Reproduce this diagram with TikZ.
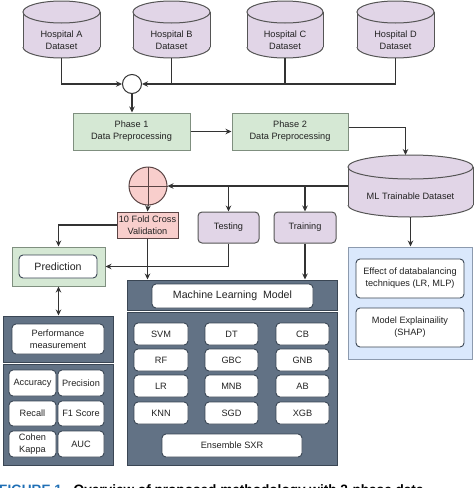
\documentclass[tikz,border=0pt]{standalone}
\usepackage{fontspec}
\setmainfont{Liberation Sans}
\usetikzlibrary{arrows.meta}
\definecolor{cylf}{HTML}{E1D5E7}
\definecolor{cyld}{HTML}{555555}
\definecolor{greenf}{HTML}{D5E8D4}
\definecolor{greend}{HTML}{7F8F7F}
\definecolor{pinkf}{HTML}{F8CECC}
\definecolor{pinkd}{HTML}{5A4444}
\definecolor{slatef}{HTML}{627285}
\definecolor{slated}{HTML}{3A4654}
\definecolor{bluef}{HTML}{DAE8FC}
\definecolor{blued}{HTML}{8C9AAE}
\definecolor{linec}{HTML}{333333}
\definecolor{txtc}{HTML}{222222}
\definecolor{capblue}{HTML}{1F6FB5}
\newcommand\myfs{\fontsize{9.2}{12}\selectfont}
\newcommand\mycyl[7]{%
  \pgfmathsetmacro\cx{(#2+#3)/2}%
  \pgfmathsetmacro\rx{(#3-#2)/2}%
  \pgfmathsetmacro\cw{#3-#2}%
  \pgfmathsetmacro\ch{#5-#4}%
  \pgfmathsetmacro\cy{(#4+#5)/2}%
  \fill[cylf] (#2,#4+#6) rectangle (#3,#5-#6);
  \fill[cylf] (\cx,#5-#6) ellipse [x radius=\rx, y radius=#6];
  \begin{scope}
    \clip (#2-3,#5-#6) rectangle (#3+3,#5+3);
    \draw[cyld, line width=1pt] (\cx,#5-#6) ellipse [x radius=\rx, y radius=#6];
  \end{scope}
  \draw[cyld, line width=1pt] (#2,#4+#6) -- (#2,#5-#6) (#3,#4+#6) -- (#3,#5-#6);
  \filldraw[fill=cylf, draw=cyld, line width=1pt] (\cx,#4+#6) ellipse [x radius=\rx, y radius=#6];
  \node[inner sep=0pt, outer sep=0pt, minimum width=\cw pt, minimum height=\ch pt] (#1) at (\cx,\cy) {};
  \node[txtn] (#1t) at (\cx,#7) {};
}
\begin{document}
\begin{tikzpicture}[x=1pt,y=-1pt,
  txtn/.style={inner sep=0pt, align=center, font=\myfs, text=txtc},
  ln/.style={draw=linec, line width=1.1pt},
  arr/.style={draw=linec, line width=1.1pt, -{Stealth[length=6pt,width=5.5pt]}},
  darr/.style={draw=linec, line width=1.1pt, {Stealth[length=6pt,width=5.5pt]}-{Stealth[length=6pt,width=5.5pt]}},
  greenbox/.style={draw=greend, fill=greenf, line width=1pt, inner sep=0pt, align=center, font=\myfs, text=txtc},
  purplebox/.style={draw=cyld, fill=cylf, line width=1pt, rounded corners=4pt, inner sep=0pt, align=center, font=\myfs, text=txtc},
  pinkbox/.style={draw=pinkd, fill=pinkf, line width=1pt, inner sep=0pt, align=center, font=\myfs, text=txtc},
  slatebox/.style={draw=slated, fill=slatef, line width=1pt, inner sep=0pt},
  bluebox/.style={draw=blued, fill=bluef, line width=1pt, inner sep=0pt},
  wbox/.style={draw=slated, fill=white, line width=0.9pt, rounded corners=4pt, inner sep=0pt, align=center, font=\myfs, text=txtc}
]
\useasboundingbox (0,0) rectangle (474,488);

% hospital cylinders
\mycyl{hA}{23}{100}{1}{58}{11}{40}
\mycyl{hB}{133}{210}{1}{58}{11}{40}
\mycyl{hC}{247}{323}{1}{58}{11}{40}
\mycyl{hD}{357}{434}{1}{58}{11}{40}
\node[txtn] at (hAt) {Hospital A\\Dataset};
\node[txtn] at (hBt) {Hospital B\\Dataset};
\node[txtn] at (hCt) {Hospital C\\Dataset};
\node[txtn] at (hDt) {Hospital D\\Dataset};

% ML trainable dataset cylinder
\mycyl{ml}{348}{473}{155}{217}{12}{196}
\node[txtn] at (mlt) {ML Trainable Dataset};

% junction
\node[circle, draw=linec, fill=white, line width=1pt, minimum size=19pt, inner sep=0pt] (j1) at (132,84) {};
\draw[arr] (hA.south) |- (j1.west);
\draw[arr] (hD.south) |- (j1.east);
\draw[ln] (hB.south) -- (hB.south |- j1.center);
\draw[ln] (hC.south) -- (hC.south |- j1.center);

% phases
\node[greenbox, minimum width=117pt, minimum height=37pt] (p1) at (131.5,131.5) {Phase 1\\Data Preprocessing};
\node[greenbox, minimum width=116pt, minimum height=37pt] (p2) at (290,131.5) {Phase 2\\Data Preprocessing};
\draw[arr] (j1.south) -- (j1.south |- p1.north);
\draw[arr] (p1.east) -- (p2.west);
\draw[arr] ([yshift=4pt]p2.east) -| ([xshift=-5pt]ml.north);

% plus circle
\node[circle, draw=pinkd, fill=pinkf, line width=1pt, minimum size=38pt, inner sep=0pt] (plus) at (148,186) {};
\draw[draw=pinkd, line width=1pt] (plus.north) -- (plus.south) (plus.west) -- (plus.east);

% testing / training / cv
\node[purplebox, minimum width=61pt, minimum height=31pt] (test) at (228.5,227.5) {Testing};
\node[purplebox, minimum width=62pt, minimum height=31pt] (train) at (305,227.5) {Training};
\node[pinkbox, minimum width=61pt, minimum height=26pt] (cv) at (147.5,225) {10 Fold Cross\\Validation};

\draw[arr] (ml.west) -- (plus.east);
\draw[arr] (test.north |- plus.east) -- (test.north);
\draw[arr] (train.north |- plus.east) -- (train.north);
\draw[arr] (plus.south) -- (cv.north);

% prediction
\node[draw=greend, fill=greenf, line width=1pt, minimum width=93pt, minimum height=39pt, inner sep=0pt] (pred) at (58.5,266.5) {};
\node[wbox, minimum width=78pt, minimum height=23pt, font=\fontsize{10.6}{12}\selectfont] (predi) at (58,266.5) {Prediction};
\draw[arr] (cv.west) -| (pred.north);
\draw[arr] (test.south) |- (pred.east);

% left panel
\node[slatebox, minimum width=110pt, minimum height=46.5pt] (perfu) at (58,339.25) {};
\node[slatebox, minimum width=110pt, minimum height=101pt] (perfl) at (58,414.5) {};
\node[wbox, minimum width=92pt, minimum height=30pt] (perf) at (58,339) {Performance\\measurement};
\node[wbox, minimum width=47pt, minimum height=26pt] (acc) at (32.5,383) {Accuracy};
\node[wbox, minimum width=46pt, minimum height=26pt] (prec) at (81,383) {Precision};
\node[wbox, minimum width=47pt, minimum height=25pt] (rec) at (32.5,413.5) {Recall};
\node[wbox, minimum width=46pt, minimum height=25pt] (f1) at (81,413.5) {F1 Score};
\node[wbox, minimum width=47pt, minimum height=26pt] (ck) at (32.5,444) {Cohen\\Kappa};
\node[wbox, minimum width=46pt, minimum height=26pt] (auc) at (81,444) {AUC};
\draw[darr] (pred.south) -- (pred.south |- perfu.north);

% ML panel
\node[slatebox, minimum width=210pt, minimum height=30pt] (mlu) at (232,295) {};
\node[slatebox, minimum width=210pt, minimum height=153pt] (mll) at (232,388.5) {};
\node[wbox, minimum width=161pt, minimum height=24pt, font=\fontsize{10.6}{12}\selectfont] (mlm) at (232.5,296) {Machine Learning\ \ Model};
\node[wbox, minimum width=54pt, minimum height=22pt] (svm) at (161,334) {SVM};
\node[wbox, minimum width=53pt, minimum height=22pt] (dt) at (231.5,334) {DT};
\node[wbox, minimum width=53pt, minimum height=22pt] (cb) at (302.5,334) {CB};
\node[wbox, minimum width=54pt, minimum height=22pt] (rf) at (161,360) {RF};
\node[wbox, minimum width=53pt, minimum height=22pt] (gbc) at (231.5,360) {GBC};
\node[wbox, minimum width=53pt, minimum height=22pt] (gnb) at (302.5,360) {GNB};
\node[wbox, minimum width=54pt, minimum height=22pt] (lr) at (161,386) {LR};
\node[wbox, minimum width=53pt, minimum height=22pt] (mnb) at (231.5,386) {MNB};
\node[wbox, minimum width=53pt, minimum height=22pt] (ab) at (302.5,386) {AB};
\node[wbox, minimum width=54pt, minimum height=22pt] (knn) at (161,413) {KNN};
\node[wbox, minimum width=53pt, minimum height=22pt] (sgd) at (231.5,413) {SGD};
\node[wbox, minimum width=53pt, minimum height=22pt] (xgb) at (302.5,413) {XGB};
\node[wbox, minimum width=140pt, minimum height=23pt] (ens) at (232,445.5) {Ensemble SXR};
\draw[arr] (cv.south) -- (cv.south |- mlu.north);
\draw[arr] (train.south) -- (train.south |- mlu.north);

% right panel
\node[bluebox, minimum width=124pt, minimum height=112pt] (rp) at (410,303) {};
\node[wbox, minimum width=108pt, minimum height=39pt] (eff) at (410,278.5) {Effect of databalancing\\techniques (LR, MLP)};
\node[wbox, minimum width=108pt, minimum height=39pt] (shap) at (410,327.5) {Model Explainaility\\(SHAP)};
\draw[arr] (ml.south) -- (ml.south |- rp.north);

% caption (cut off at the bottom edge, as in the reference)
\node[anchor=base west, inner sep=0pt, font=\fontsize{13.6}{15}\bfseries\selectfont, text=black] (cap) at (-1,494.5) {\textcolor{capblue}{FIGURE 1.}\hspace{8pt}Overview of proposed methodology with 2-phase data};
\end{tikzpicture}
\end{document}
